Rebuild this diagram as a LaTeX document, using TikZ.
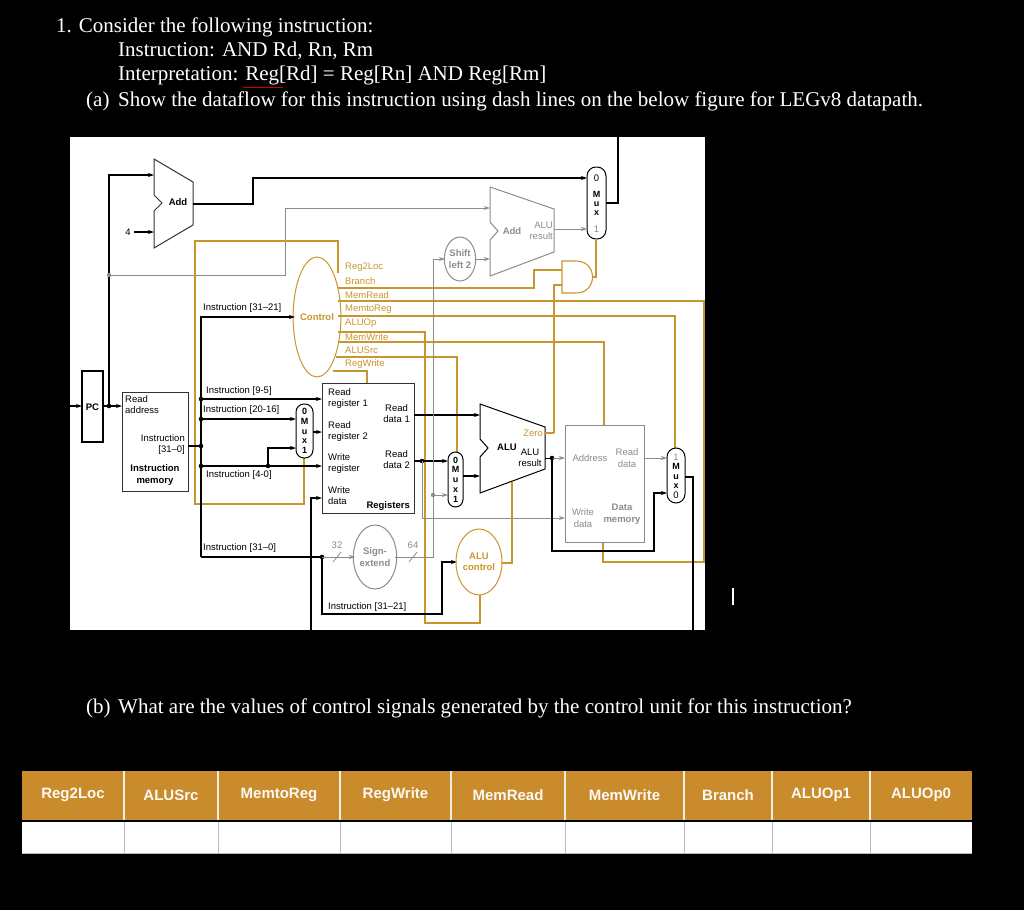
\documentclass[tikz,border=0pt]{standalone}
\usepackage{fontspec}
\setmainfont{Liberation Serif}
\newfontfamily\dsans{Liberation Sans}
\usetikzlibrary{arrows.meta,shapes.geometric}
\definecolor{og}{HTML}{C8962E}
\definecolor{gr}{HTML}{8C8C8C}
\definecolor{thc}{HTML}{C98B2B}
\begin{document}
\begin{tikzpicture}[x=1pt,y=-1pt,
  w/.style={black,line width=1.1pt},
  o/.style={og,line width=1.1pt},
  ot/.style={og,line width=2.4pt},
  g/.style={gr,line width=1.0pt},
  ar/.style={-{Stealth[length=6pt,width=4pt]}},
  lbl/.style={font=\dsans\fontsize{9.5}{11.5}\selectfont,inner sep=0pt},
  blbl/.style={font=\dsans\bfseries\fontsize{9.5}{11.5}\selectfont,inner sep=0pt},
  olbl/.style={lbl,text=og,anchor=west},
  hdr/.style={font=\fontsize{21}{24}\selectfont,text=white,anchor=base west,inner sep=0pt},
  thtxt/.style={font=\dsans\bfseries\fontsize{15}{18}\selectfont,text=white!95!thc,inner sep=0pt}]
\useasboundingbox (0,0) rectangle (1024,910);
\fill[black] (0,0) rectangle (1024,910);
% header text
\node[hdr] (h1) at (56,32) {1. Consider the following instruction:};
\node[hdr] (h2) at (118,56) {Instruction: AND Rd, Rn, Rm};
\node[hdr] (h3) at (118,80) {Interpretation: Reg[Rd] = Reg[Rn] AND Reg[Rm]};
\draw[red!80!black,line width=1pt] (243,87) -- (283,87);
\node[hdr] (h4a) at (86,106) {(a)};
\node[hdr] (h4) at (118,106) {Show the dataflow for this instruction using dash lines on the below figure for LEGv8 datapath.};
\node[hdr] (h5a) at (86,713) {(b)};
\node[hdr] (h5) at (118,713) {What are the values of control signals generated by the control unit for this instruction?};
% panel
\fill[white] (70,137) rectangle (705,630);
% ---------- PC and adder
\draw[w] (82,371) rectangle (103,442);
\node[blbl] (pc) at (92.5,407) {PC};
\coordinate (pcin) at (70,406);
\draw[w,ar] (pcin) -- (82,406);
\coordinate (pcd) at (109,406);
\draw[w,ar] (103,406) -- (122,406);
\fill (pcd) circle (2.3pt);
\draw[w,ar] (pcd) -- (109,175) -- (154,175);
\fill[gr] (109,275) circle (2.2pt);
\draw[g,ar] (109,275) -- (285,275) -- (285,208) -- (490,208);
\draw[line width=1pt,black!80] (154,159) -- (193,182) -- (193,225) -- (154,248) -- (154,211) -- (162,203) -- (154,195) -- cycle;
\node[blbl] (add) at (178,202) {Add};
\node[lbl] (four) at (128,232) {4};
\draw[w,ar] (134,232) -- (154,232);
\draw[w,ar] (193,204) -- (253,204) -- (253,178) -- (587,178);
% PC mux
\draw[line width=1pt,rounded corners=9pt] (587,167) rectangle (606,239);
\node[lbl] at (596.5,178) {0};
\node[blbl,align=center,font=\dsans\bfseries\fontsize{9}{9}\selectfont] (pcmux) at (596.5,203) {M\\u\\x};
\node[lbl,text=gr] at (596.5,229) {1};
\draw[w] (606,203) -- (618,203) -- (618,137);
% branch adder
\draw[gr,line width=1pt] (490,187) -- (554,209) -- (554,252) -- (490,276) -- (490,240) -- (498,231) -- (490,222) -- cycle;
\node[blbl,text=gr] (add2) at (512,231) {Add};
\node[lbl,text=gr,align=right,anchor=east] at (553,231) {ALU\\result};
\draw[g,ar] (554,229) -- (587,229);
\node[draw=gr,line width=1pt,ellipse,minimum width=30pt,minimum height=44pt,inner sep=0pt,blbl,text=gr,align=center] (sl2) at (460,259) {Shift\\left 2};
\draw[g,ar] (475,259) -- (490,259);
% AND gate
\draw[o] (562,261) -- (576,261) .. controls (598,261) and (598,293) .. (576,293) -- (562,293) -- cycle;
\draw[o] (592,277) -- (596,277) -- (596,239);
% Control
\node[draw=og,line width=1pt,ellipse,minimum width=46pt,minimum height=120pt,inner sep=0pt,blbl,text=og] (ctl) at (317,317) {Control};
\node[olbl] at (345,267) {Reg2Loc};
\node[olbl] at (345,281) {Branch};
\node[olbl] at (345,295) {MemRead};
\node[olbl] at (345,309) {MemtoReg};
\node[olbl] at (345,323) {ALUOp};
\node[olbl] at (345,337) {MemWrite};
\node[olbl] at (345,350) {ALUSrc};
\node[olbl] at (345,364) {RegWrite};
% control lines
\draw[o] (338,273) -- (338,241) -- (195,241) -- (195,504) -- (304,504) -- (304,458);
\draw[o] (338,288) -- (534,288) -- (534,270) -- (562,270);
\draw[o] (338,301) -- (704,301) -- (704,562) -- (603,562) -- (603,542);
\draw[o] (338,316) -- (675,316) -- (675,448);
\draw[ot] (338,332) -- (425,332) -- (425,623) -- (480,623) -- (480,595);
\draw[o] (338,342) -- (604,342) -- (604,425);
\draw[o] (336,357) -- (457,357) -- (457,452);
\draw[o] (333,371) -- (367,371) -- (367,383);
\draw[o] (554,433) -- (554,285) -- (562,285);
% instruction memory
\draw[line width=1pt,black!80] (122,392) rectangle (188,491);
\node[lbl,anchor=north west,align=left] (ima) at (125,395) {Read\\address};
\node[lbl,anchor=north east,align=right] (imi) at (185,434) {Instruction\\{}[31–0]};
\node[blbl,align=center] (imm) at (155,475) {Instruction\\memory};
\draw[w] (188,446) -- (201,446);
\fill (201,446) circle (2.3pt);
\draw[w,ar] (201,557) -- (201,317) -- (295,317);
\node[lbl,anchor=south west] at (203,313) {Instruction [31–21]};
\fill (201,399) circle (2.3pt);
\fill (201,419) circle (2.3pt);
\fill (201,466) circle (2.3pt);
\draw[w,ar] (201,399) -- (322,399);
\node[lbl,anchor=south west] at (206,396) {Instruction [9-5]};
\draw[w,ar] (201,419) -- (296,419);
\node[lbl,anchor=south west] at (203,415) {Instruction [20-16]};
\draw[w,ar] (201,466) -- (322,466);
\node[lbl,anchor=north west] at (206,470) {Instruction [4-0]};
\fill (268,466) circle (2.3pt);
\draw[w,ar] (268,466) -- (268,448) -- (296,448);
\draw[w] (201,557) -- (322,557);
\node[lbl,anchor=south west] at (203,553) {Instruction [31–0]};
\fill (322,557) circle (2.3pt);
\draw[w,ar] (322,557) -- (322,614) -- (442,614) -- (442,562) -- (457,562);
\node[lbl,anchor=south west] at (328,612) {Instruction [31–21]};
% register mux
\draw[line width=1pt,rounded corners=8pt] (296,404) rectangle (313,458);
\node[blbl,align=center,font=\dsans\bfseries\fontsize{9}{9.6}\selectfont] at (304.5,431) {0\\M\\u\\x\\1};
\draw[w,ar] (313,432) -- (322,432);
% registers
\draw[line width=1pt,black!80] (322,383) rectangle (414,513);
\node[lbl,anchor=north west,align=left] at (328,388) {Read\\register 1};
\node[lbl,anchor=north east,align=center] at (410,404) {Read\\data 1};
\node[lbl,anchor=north west,align=left] at (328,421) {Read\\register 2};
\node[lbl,anchor=north west,align=left] at (328,453) {Write\\register};
\node[lbl,anchor=north east,align=center] at (410,450) {Read\\data 2};
\node[lbl,anchor=north west,align=left] at (328,486) {Write\\data};
\node[blbl,anchor=base east] at (410,508) {Registers};
\draw[w,ar] (311,630) -- (311,498) -- (322,498);
\draw[w,ar] (414,415) -- (480,415);
\draw[w,ar] (414,461) -- (448,461);
\fill (422,461) circle (2.3pt);
\draw[g,ar] (422,461) -- (422,518) -- (565,518);
% sign extend
\draw[g,ar] (322,557) -- (355,557);
\node[draw=gr,line width=1pt,ellipse,minimum width=40pt,minimum height=64pt,inner sep=0pt,blbl,text=gr,align=center] (se) at (375,557) {Sign-\\extend};
\draw[g] (395,557) -- (433,557) -- (433,259);
\draw[g,ar] (433,259) -- (445,259);
\draw[gr,line width=0.8pt] (333,562) -- (341,552);
\draw[gr,line width=0.8pt] (409,562) -- (417,552);
\node[lbl,text=gr] at (337,545) {32};
\node[lbl,text=gr] at (413,545) {64};
\fill[gr] (433,495) circle (2.2pt);
\draw[g,ar] (433,495) -- (448,495);
% ALU mux
\draw[line width=1pt,rounded corners=7.5pt] (448,452) rectangle (463,507);
\node[blbl,align=center,font=\dsans\bfseries\fontsize{9}{9.8}\selectfont] at (455.5,479.5) {0\\M\\u\\x\\1};
\draw[w,ar] (463,476) -- (480,476);
% ALU
\draw[line width=1pt] (480,404) -- (545,427) -- (545,469) -- (480,493) -- (480,457) -- (488,448) -- (480,439) -- cycle;
\node[blbl] (alu) at (507,447) {ALU};
\node[lbl,align=center] at (530,458) {ALU\\result};
\node[lbl,text=og,anchor=east] at (543,433) {Zero};
\draw[o] (545,433) -- (554,433);
% ALU control
\node[draw=og,line width=1pt,ellipse,minimum width=46pt,minimum height=66pt,inner sep=0pt,blbl,text=og,align=center] (aluc) at (479,562) {ALU\\control};
\draw[ot] (502,563) -- (512,563) -- (512,482);
% data memory
\draw[gr,line width=1pt] (565,425) rectangle (644,542);
\node[lbl,text=gr] at (590,458) {Address};
\node[lbl,text=gr,align=center] at (627,458) {Read\\data};
\node[lbl,text=gr,align=center] at (583,518) {Write\\data};
\node[blbl,text=gr,align=center] at (622,514) {Data\\memory};
\draw[line width=1pt] (545,458) -- (552,458);
\fill (552,458) circle (2.3pt);
\draw[g,ar] (552,458) -- (565,458);
\draw[w,ar] (552,458) -- (552,551) -- (654,551) -- (654,493) -- (667,493);
\draw[g,ar] (644,458) -- (667,458);
% right mux
\draw[line width=1pt,rounded corners=9pt] (667,448) rectangle (685,503);
\node[lbl,text=gr] at (676,457) {1};
\node[blbl,align=center,font=\dsans\bfseries\fontsize{9}{9.8}\selectfont] at (676,476) {M\\u\\x};
\node[lbl] at (676,495) {0};
\draw[w] (685,477) -- (693,477) -- (693,630);
\draw[white,line width=1.2pt] (733,588) -- (733,605);
% table
\fill[thc] (22,771) rectangle (972,820);
\fill[white] (22,822) rectangle (972,853);
\draw[gr!60,line width=0.8pt] (22,853) -- (972,853);
\foreach \xx in {124,218,340,451,565,684,772,870} {
  \draw[white!85!thc,line width=1.2pt] (\xx,771) -- (\xx,820);
  \draw[gr!60,line width=0.8pt] (\xx,822) -- (\xx,853);
}
\node[thtxt] at (73,795) {Reg2Loc};
\node[thtxt] at (171,795) {ALUSrc};
\node[thtxt] at (279,795) {MemtoReg};
\node[thtxt] at (395.5,795) {RegWrite};
\node[thtxt] at (508,795) {MemRead};
\node[thtxt] at (624.5,795) {MemWrite};
\node[thtxt] at (728,795) {Branch};
\node[thtxt] at (821,795) {ALUOp1};
\node[thtxt] at (921,795) {ALUOp0};
\end{tikzpicture}
\end{document}
